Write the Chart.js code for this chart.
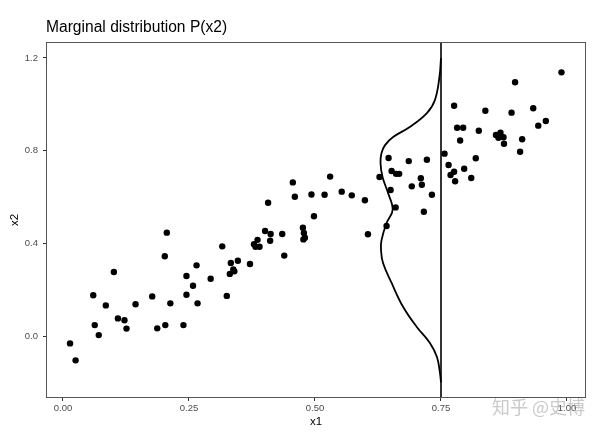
<!DOCTYPE html>
<html>
<head>
<meta charset="utf-8">
<script src="https://cdn.jsdelivr.net/npm/chart.js@4"></script>
<style>
  html, body { margin: 0; padding: 0; background: #fff; }
  #wrap { width: 600px; height: 432px; }
</style>
</head>
<body>
<div id="wrap"><canvas id="margChart" width="600" height="432"></canvas></div>
<script>
// scatter points (x1, x2)
var x1 = [0.014, 0.025, 0.060, 0.063, 0.071, 0.085, 0.101, 0.109, 0.122, 0.126,
          0.144, 0.177, 0.187, 0.202, 0.203, 0.206, 0.213, 0.239, 0.245, 0.245,
          0.258, 0.265, 0.267, 0.293, 0.316, 0.325, 0.331, 0.333, 0.338, 0.340,
          0.347, 0.371, 0.379, 0.386, 0.382, 0.390, 0.401, 0.407, 0.411, 0.412,
          0.435, 0.439, 0.456, 0.460, 0.476, 0.478, 0.480, 0.477, 0.498, 0.493,
          0.519, 0.530, 0.553, 0.573, 0.599, 0.605, 0.628, 0.646, 0.652, 0.661,
          0.667, 0.650, 0.660, 0.642, 0.686, 0.722, 0.692, 0.710, 0.712, 0.732,
          0.716, 0.989, 0.897, 0.776, 0.838, 0.890, 0.933, 0.958, 0.943, 0.782,
          0.794, 0.825, 0.788, 0.859, 0.868, 0.864, 0.874, 0.875, 0.911, 0.907,
          0.757, 0.819, 0.765, 0.796, 0.776, 0.769, 0.810, 0.778];
var x2 = [-0.032, -0.105, 0.176, 0.047, 0.004, 0.132, 0.276, 0.076, 0.068, 0.032,
          0.137, 0.171, 0.033, 0.344, 0.047, 0.446, 0.141, 0.047, 0.259, 0.178,
          0.217, 0.305, 0.141, 0.247, 0.387, 0.173, 0.268, 0.315, 0.287, 0.279,
          0.325, 0.311, 0.396, 0.415, 0.385, 0.385, 0.453, 0.575, 0.411, 0.440,
          0.440, 0.347, 0.663, 0.601, 0.467, 0.445, 0.424, 0.417, 0.517, 0.611,
          0.610, 0.688, 0.623, 0.607, 0.586, 0.439, 0.686, 0.768, 0.712, 0.700,
          0.700, 0.630, 0.555, 0.475, 0.755, 0.761, 0.646, 0.681, 0.653, 0.610,
          0.536, 1.138, 1.095, 0.994, 0.972, 0.964, 0.983, 0.928, 0.908, 0.899,
          0.899, 0.886, 0.844, 0.868, 0.878, 0.856, 0.858, 0.830, 0.849, 0.795,
          0.787, 0.767, 0.738, 0.722, 0.709, 0.695, 0.682, 0.668];

// density curve of x2 drawn sideways, hanging off x1 = 0.75
var curveX2 = [1.20, 1.119, 1.019, 0.962, 0.902, 0.859, 0.824, 0.790, 0.747, 0.686,
               0.617, 0.544, 0.488, 0.414, 0.371, 0.315, 0.229, 0.125, 0.039, -0.030,
               -0.091, -0.160, -0.20];
var curveX1 = [0.750, 0.747, 0.738, 0.722, 0.688, 0.655, 0.639, 0.632, 0.630, 0.634,
               0.645, 0.654, 0.642, 0.632, 0.631, 0.635, 0.652, 0.675, 0.702, 0.728,
               0.742, 0.748, 0.750];

var cutX1 = 0.75;
var xTicks = [0, 0.25, 0.5, 0.75, 1.0];
var yTicks = [0, 0.4, 0.8, 1.2];
var xTickLabels = ['0.00', '0.25', '0.50', '0.75', '1.00'];
var yTickLabels = ['0.0', '0.4', '0.8', '1.2'];

var points = x1.map(function (v, i) { return { x: v, y: x2[i] }; });
var curve = curveX2.map(function (v, i) { return { x: curveX1[i], y: v }; });
var vline = [{ x: cutX1, y: -1 }, { x: cutX1, y: 2 }];

// title, panel border and watermark
var decor = {
  id: 'decor',
  afterDraw: function (chart) {
    var c = chart.ctx, a = chart.chartArea;
    c.save();
    c.strokeStyle = '#555';
    c.lineWidth = 1;
    c.strokeRect(a.left + 0.5, a.top + 0.5, a.right - a.left - 1, a.bottom - a.top - 1);
    c.fillStyle = '#000';
    c.font = '15.6px "Liberation Sans", Arial, sans-serif';
    c.textBaseline = 'alphabetic';
    c.fillText('Marginal distribution P(x2)', 46, 32);
    c.fillStyle = 'rgba(150,150,150,0.5)';
    c.font = '18px "Noto Sans CJK SC", sans-serif';
    c.fillText('知乎 @史博', 492, 414);
    c.restore();
  }
};

var ctx = document.getElementById('margChart').getContext('2d');
var chart = new Chart(ctx, {
  type: 'scatter',
  data: {
    datasets: [
      {
        label: 'cut',
        data: vline,
        showLine: true,
        borderColor: '#000',
        borderWidth: 1.6,
        pointRadius: 0,
        order: 1
      },
      {
        label: 'density',
        data: curve,
        showLine: true,
        tension: 0.4,
        borderColor: '#000',
        borderWidth: 1.8,
        pointRadius: 0,
        order: 2
      },
      {
        label: 'points',
        data: points,
        backgroundColor: '#000',
        borderColor: '#000',
        pointRadius: 3.2,
        borderWidth: 0,
        order: 3
      }
    ]
  },
  options: {
    responsive: false,
    animation: false,
    layout: { padding: { left: 0, right: 14, top: 42, bottom: 0 } },
    plugins: {
      legend: { display: false },
      tooltip: { enabled: false }
    },
    scales: {
      x: {
        type: 'linear',
        min: -0.0337,
        max: 1.0377,
        afterBuildTicks: function (s) { s.ticks = xTicks.map(function (v) { return { value: v }; }); },
        afterFit: function (s) { s.height = 34; },
        grid: { display: true, drawOnChartArea: false, drawTicks: true, tickLength: 3, color: '#333' },
        border: { display: false },
        ticks: {
          padding: 2,
          color: '#4d4d4d',
          font: { family: 'Liberation Sans', size: 9.5 },
          callback: function (v) { return xTickLabels[xTicks.indexOf(v)]; }
        },
        title: {
          display: true,
          text: 'x1',
          color: '#000',
          font: { family: 'Liberation Sans', size: 11.5 },
          padding: { top: 0, bottom: 3.2 }
        }
      },
      y: {
        type: 'linear',
        min: -0.2676,
        max: 1.269,
        afterBuildTicks: function (s) { s.ticks = yTicks.map(function (v) { return { value: v }; }); },
        afterFit: function (s) { s.width = 46; },
        grid: { display: true, drawOnChartArea: false, drawTicks: true, tickLength: 3, color: '#333' },
        border: { display: false },
        ticks: {
          padding: 5,
          color: '#4d4d4d',
          font: { family: 'Liberation Sans', size: 9.5 },
          callback: function (v) { return yTickLabels[yTicks.indexOf(v)]; }
        },
        title: {
          display: true,
          text: 'x2',
          color: '#000',
          font: { family: 'Liberation Sans', size: 11.5 },
          padding: { top: 8.2, bottom: 0 }
        }
      }
    }
  },
  plugins: [decor]
});
</script>
</body>
</html>
